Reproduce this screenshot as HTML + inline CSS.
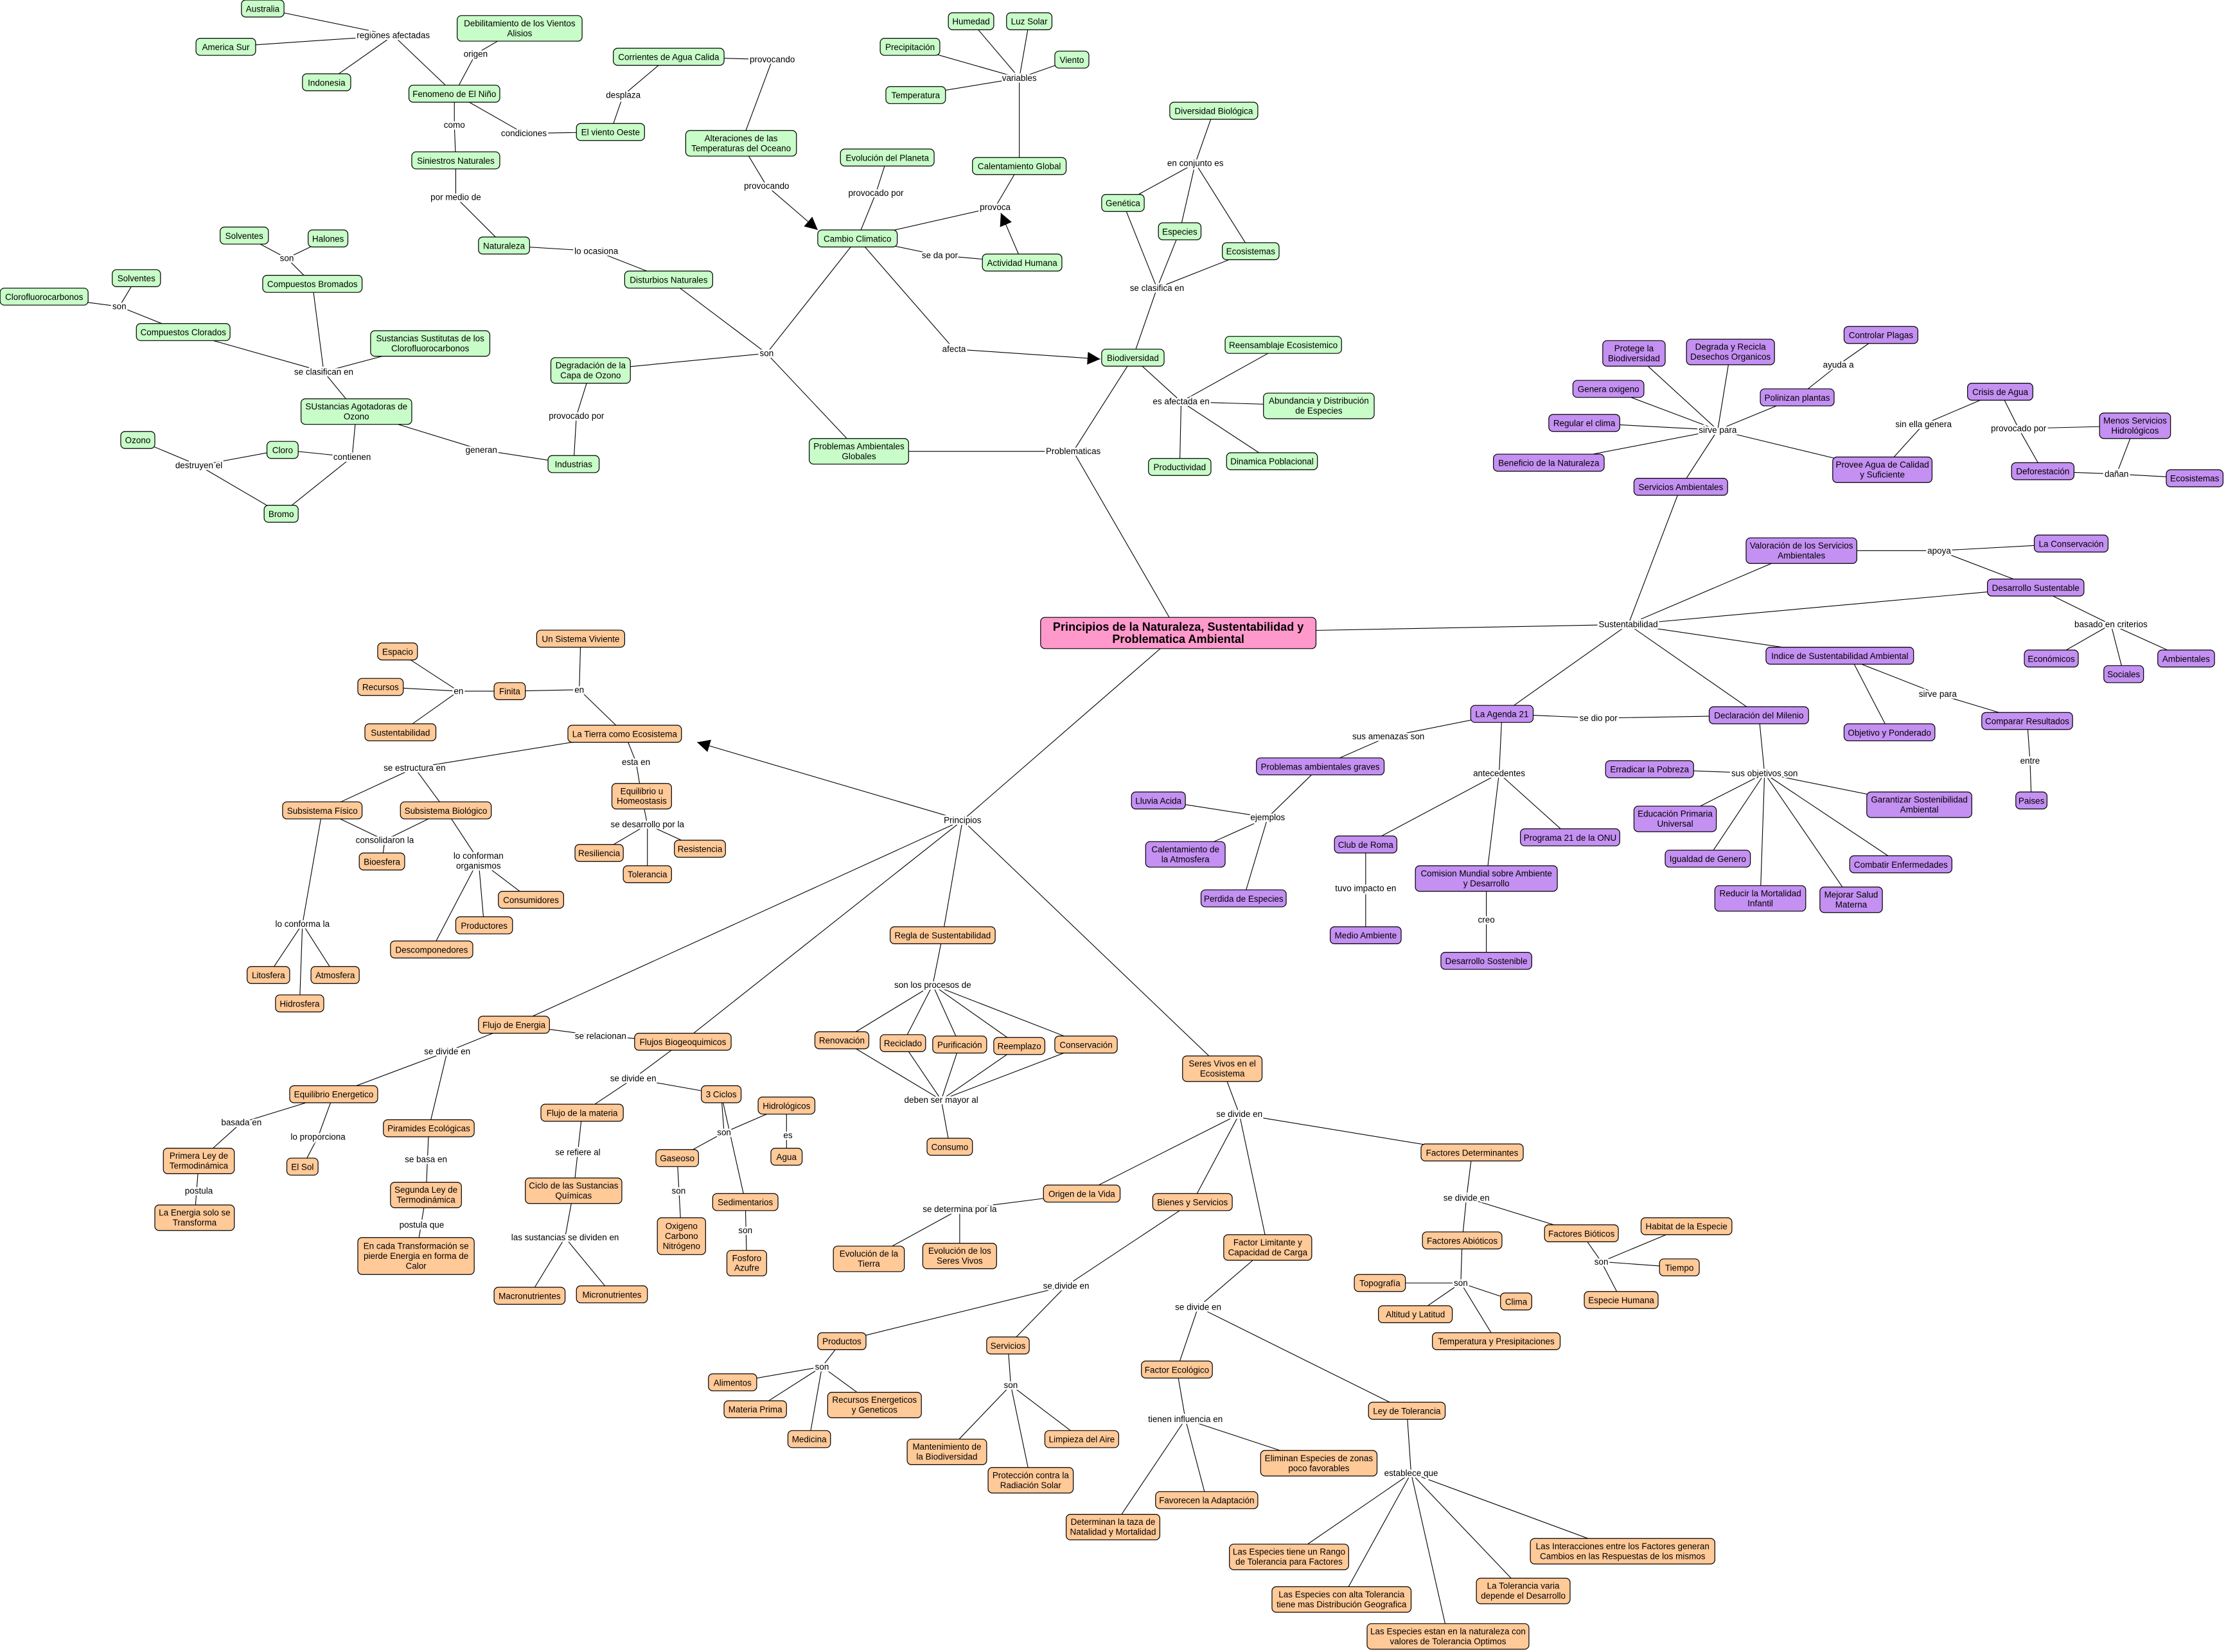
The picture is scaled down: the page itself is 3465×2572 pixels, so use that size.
<!DOCTYPE html>
<html><head><meta charset="utf-8"><style>
html,body{margin:0;padding:0;background:#fff}
svg{display:block}
text{font-family:"Liberation Sans","DejaVu Sans",sans-serif;font-size:6.1px;text-anchor:middle;fill:#000}
.n rect{stroke:#000;stroke-width:0.55}
.g rect{fill:#c8fcc8}.p rect{fill:#c490f2}.o rect{fill:#ffc998}.k rect{fill:#ff99cc}
.l{stroke:#fff;stroke-width:2.5;paint-order:stroke;stroke-linejoin:round}
.e line{stroke:#000;stroke-width:0.5}
</style></head><body>
<svg width="3465" height="2572" viewBox="0 0 1568 1164" xmlns="http://www.w3.org/2000/svg">
<defs><marker id="a" viewBox="0 0 10 10" refX="10" refY="5" markerWidth="9" markerHeight="9" markerUnits="userSpaceOnUse" orient="auto"><path d="M0 0L10 5L0 10z" fill="#000"/></marker></defs>
<g class="e">
<line x1="185" y1="6" x2="277" y2="25"/><line x1="159" y1="33" x2="277" y2="25"/><line x1="230" y1="58" x2="277" y2="25"/><line x1="277" y1="25" x2="320" y2="66"/>
<line x1="366" y1="20" x2="335" y2="38"/><line x1="335" y1="38" x2="320" y2="66"/>
<line x1="320" y1="66" x2="320" y2="88"/><line x1="320" y1="88" x2="321" y2="113"/>
<line x1="320" y1="66" x2="369" y2="94"/><line x1="369" y1="94" x2="430" y2="93"/>
<line x1="430" y1="93" x2="439" y2="67"/><line x1="439" y1="67" x2="471" y2="40"/>
<line x1="471" y1="40" x2="544" y2="42"/><line x1="544" y1="42" x2="522" y2="101"/>
<line x1="522" y1="101" x2="540" y2="131"/><line x1="540" y1="131" x2="576" y2="162" marker-end="url(#a)"/>
<line x1="321" y1="113" x2="321" y2="139"/><line x1="321" y1="139" x2="355" y2="173"/>
<line x1="355" y1="173" x2="420" y2="177"/><line x1="420" y1="177" x2="471" y2="197"/>
<line x1="172" y1="166" x2="202" y2="182"/><line x1="231" y1="168" x2="202" y2="182"/><line x1="202" y1="182" x2="220" y2="200"/>
<line x1="96" y1="196" x2="84" y2="216"/><line x1="31" y1="209" x2="84" y2="216"/><line x1="84" y1="216" x2="129" y2="234"/>
<line x1="220" y1="200" x2="228" y2="262"/><line x1="129" y1="234" x2="228" y2="262"/><line x1="303" y1="242" x2="228" y2="262"/><line x1="228" y1="262" x2="251" y2="290"/>
<line x1="251" y1="290" x2="248" y2="322"/><line x1="199" y1="317" x2="248" y2="322"/><line x1="248" y1="322" x2="198" y2="362"/>
<line x1="97" y1="310" x2="140" y2="328"/><line x1="140" y1="328" x2="199" y2="317"/><line x1="140" y1="328" x2="198" y2="362"/>
<line x1="251" y1="290" x2="339" y2="317"/><line x1="339" y1="317" x2="404" y2="327"/>
<line x1="404" y1="327" x2="406" y2="293"/><line x1="406" y1="293" x2="416" y2="261"/>
<line x1="416" y1="261" x2="540" y2="249"/><line x1="471" y1="197" x2="540" y2="249"/><line x1="604" y1="168" x2="540" y2="249"/><line x1="540" y1="249" x2="605" y2="318"/>
<line x1="625" y1="111" x2="617" y2="136"/><line x1="617" y1="136" x2="604" y2="168"/>
<line x1="604" y1="168" x2="701" y2="146"/><line x1="701" y1="146" x2="718" y2="117"/><line x1="720" y1="185" x2="705" y2="150" marker-end="url(#a)"/>
<line x1="604" y1="168" x2="662" y2="180"/><line x1="662" y1="180" x2="720" y2="185"/>
<line x1="718" y1="117" x2="718" y2="55"/><line x1="641" y1="33" x2="718" y2="55"/><line x1="684" y1="15" x2="718" y2="55"/><line x1="725" y1="15" x2="718" y2="55"/><line x1="755" y1="42" x2="718" y2="55"/><line x1="645" y1="67" x2="718" y2="55"/>
<line x1="604" y1="168" x2="672" y2="246"/><line x1="672" y1="246" x2="775" y2="253" marker-end="url(#a)"/>
<line x1="855" y1="78" x2="842" y2="115"/><line x1="791" y1="143" x2="842" y2="115"/><line x1="831" y1="163" x2="842" y2="115"/><line x1="881" y1="177" x2="842" y2="115"/>
<line x1="791" y1="143" x2="815" y2="203"/><line x1="831" y1="163" x2="815" y2="203"/><line x1="881" y1="177" x2="815" y2="203"/><line x1="815" y1="203" x2="798" y2="252"/>
<line x1="798" y1="252" x2="832" y2="283"/><line x1="904" y1="243" x2="832" y2="283"/><line x1="929" y1="286" x2="832" y2="283"/><line x1="831" y1="329" x2="832" y2="283"/><line x1="896" y1="325" x2="832" y2="283"/>
<line x1="798" y1="252" x2="756" y2="318"/><line x1="605" y1="318" x2="756" y2="318"/><line x1="756" y1="318" x2="830" y2="446"/>
<line x1="830" y1="446" x2="1147" y2="440"/><line x1="1147" y1="440" x2="1184" y2="343"/><line x1="1147" y1="440" x2="1269" y2="388"/><line x1="1147" y1="440" x2="1434" y2="414"/><line x1="1147" y1="440" x2="1296" y2="462"/><line x1="1147" y1="440" x2="1058" y2="503"/><line x1="1147" y1="440" x2="1239" y2="504"/>
<line x1="1184" y1="343" x2="1210" y2="303"/><line x1="1151" y1="249" x2="1210" y2="303"/><line x1="1219" y1="248" x2="1210" y2="303"/><line x1="1133" y1="274" x2="1210" y2="303"/><line x1="1266" y1="280" x2="1210" y2="303"/><line x1="1116" y1="298" x2="1210" y2="303"/><line x1="1091" y1="326" x2="1210" y2="303"/><line x1="1326" y1="331" x2="1210" y2="303"/>
<line x1="1266" y1="280" x2="1295" y2="257"/><line x1="1295" y1="257" x2="1325" y2="236"/>
<line x1="1326" y1="331" x2="1355" y2="299"/><line x1="1355" y1="299" x2="1409" y2="276"/>
<line x1="1409" y1="276" x2="1422" y2="302"/><line x1="1422" y1="302" x2="1439" y2="332"/><line x1="1504" y1="300" x2="1422" y2="302"/>
<line x1="1439" y1="332" x2="1491" y2="334"/><line x1="1491" y1="334" x2="1546" y2="337"/><line x1="1491" y1="334" x2="1504" y2="300"/>
<line x1="1269" y1="388" x2="1366" y2="388"/><line x1="1366" y1="388" x2="1459" y2="383"/><line x1="1366" y1="388" x2="1434" y2="414"/>
<line x1="1434" y1="414" x2="1487" y2="440"/><line x1="1487" y1="440" x2="1445" y2="464"/><line x1="1487" y1="440" x2="1540" y2="464"/><line x1="1487" y1="440" x2="1496" y2="475"/>
<line x1="1296" y1="462" x2="1302" y2="460"/><line x1="1302" y1="460" x2="1331" y2="516"/><line x1="1296" y1="462" x2="1365" y2="489"/><line x1="1365" y1="489" x2="1428" y2="508"/><line x1="1428" y1="508" x2="1430" y2="536"/><line x1="1430" y1="536" x2="1431" y2="564"/>
<line x1="1058" y1="503" x2="1126" y2="506"/><line x1="1126" y1="506" x2="1239" y2="504"/>
<line x1="1058" y1="503" x2="978" y2="519"/><line x1="978" y1="519" x2="930" y2="540"/>
<line x1="930" y1="540" x2="893" y2="576"/><line x1="816" y1="564" x2="893" y2="576"/><line x1="835" y1="602" x2="893" y2="576"/><line x1="876" y1="633" x2="893" y2="576"/>
<line x1="1058" y1="503" x2="1056" y2="545"/><line x1="1056" y1="545" x2="962" y2="595"/><line x1="1056" y1="545" x2="1106" y2="590"/><line x1="1056" y1="545" x2="1047" y2="619"/>
<line x1="962" y1="595" x2="962" y2="659"/><line x1="1047" y1="619" x2="1047" y2="677"/>
<line x1="1239" y1="504" x2="1243" y2="545"/><line x1="1162" y1="542" x2="1243" y2="545"/><line x1="1180" y1="577" x2="1243" y2="545"/><line x1="1203" y1="605" x2="1243" y2="545"/><line x1="1240" y1="633" x2="1243" y2="545"/><line x1="1304" y1="634" x2="1243" y2="545"/><line x1="1339" y1="609" x2="1243" y2="545"/><line x1="1352" y1="567" x2="1243" y2="545"/>
<line x1="830" y1="446" x2="678" y2="578"/><line x1="678" y1="578" x2="491" y2="523" marker-end="url(#a)"/><line x1="678" y1="578" x2="362" y2="722"/><line x1="678" y1="578" x2="481" y2="734"/><line x1="678" y1="578" x2="664" y2="659"/><line x1="678" y1="578" x2="861" y2="753"/>
<line x1="280" y1="459" x2="323" y2="487"/><line x1="268" y1="484" x2="323" y2="487"/><line x1="282" y1="516" x2="323" y2="487"/><line x1="323" y1="487" x2="359" y2="487"/>
<line x1="359" y1="487" x2="408" y2="486"/><line x1="409" y1="450" x2="408" y2="486"/><line x1="408" y1="486" x2="440" y2="517"/>
<line x1="440" y1="517" x2="292" y2="541"/><line x1="292" y1="541" x2="227" y2="571"/><line x1="292" y1="541" x2="314" y2="571"/>
<line x1="440" y1="517" x2="448" y2="537"/><line x1="448" y1="537" x2="452" y2="561"/>
<line x1="452" y1="561" x2="456" y2="581"/><line x1="422" y1="601" x2="456" y2="581"/><line x1="493" y1="598" x2="456" y2="581"/><line x1="456" y1="616" x2="456" y2="581"/>
<line x1="227" y1="571" x2="271" y2="592"/><line x1="314" y1="571" x2="271" y2="592"/><line x1="271" y1="592" x2="269" y2="607"/>
<line x1="314" y1="571" x2="337" y2="606"/><line x1="374" y1="634" x2="337" y2="606"/><line x1="341" y1="652" x2="337" y2="606"/><line x1="304" y1="669" x2="337" y2="606"/>
<line x1="227" y1="571" x2="213" y2="651"/><line x1="189" y1="687" x2="213" y2="651"/><line x1="236" y1="687" x2="213" y2="651"/><line x1="211" y1="707" x2="213" y2="651"/>
<line x1="664" y1="659" x2="657" y2="694"/><line x1="593" y1="733" x2="657" y2="694"/><line x1="636" y1="735" x2="657" y2="694"/><line x1="676" y1="736" x2="657" y2="694"/><line x1="718" y1="737" x2="657" y2="694"/><line x1="765" y1="736" x2="657" y2="694"/>
<line x1="593" y1="733" x2="663" y2="775"/><line x1="636" y1="735" x2="663" y2="775"/><line x1="676" y1="736" x2="663" y2="775"/><line x1="718" y1="737" x2="663" y2="775"/><line x1="765" y1="736" x2="663" y2="775"/><line x1="663" y1="775" x2="669" y2="808"/>
<line x1="362" y1="722" x2="423" y2="730"/><line x1="423" y1="730" x2="481" y2="734"/>
<line x1="362" y1="722" x2="315" y2="741"/><line x1="315" y1="741" x2="235" y2="771"/><line x1="315" y1="741" x2="302" y2="795"/>
<line x1="235" y1="771" x2="170" y2="791"/><line x1="170" y1="791" x2="140" y2="818"/><line x1="235" y1="771" x2="224" y2="801"/><line x1="224" y1="801" x2="213" y2="822"/>
<line x1="140" y1="818" x2="137" y2="858"/><line x1="302" y1="795" x2="300" y2="842"/><line x1="300" y1="842" x2="293" y2="885"/>
<line x1="481" y1="734" x2="446" y2="760"/><line x1="446" y1="760" x2="508" y2="771"/><line x1="446" y1="760" x2="410" y2="784"/>
<line x1="508" y1="771" x2="510" y2="798"/><line x1="510" y1="798" x2="477" y2="816"/><line x1="510" y1="798" x2="554" y2="779"/><line x1="508" y1="771" x2="525" y2="847"/><line x1="554" y1="779" x2="554" y2="815"/>
<line x1="477" y1="816" x2="480" y2="871"/><line x1="525" y1="847" x2="526" y2="890"/>
<line x1="410" y1="784" x2="404" y2="839"/><line x1="404" y1="839" x2="398" y2="872"/><line x1="398" y1="872" x2="373" y2="913"/><line x1="398" y1="872" x2="431" y2="912"/>
<line x1="861" y1="753" x2="873" y2="785"/><line x1="873" y1="785" x2="762" y2="841"/><line x1="873" y1="785" x2="840" y2="847"/><line x1="873" y1="785" x2="893" y2="879"/><line x1="873" y1="785" x2="1037" y2="812"/>
<line x1="762" y1="841" x2="676" y2="852"/><line x1="676" y1="852" x2="612" y2="887"/><line x1="676" y1="852" x2="676" y2="885"/>
<line x1="840" y1="847" x2="751" y2="906"/><line x1="751" y1="906" x2="593" y2="945"/><line x1="751" y1="906" x2="710" y2="948"/>
<line x1="593" y1="945" x2="579" y2="963"/><line x1="516" y1="974" x2="579" y2="963"/><line x1="532" y1="993" x2="579" y2="963"/><line x1="616" y1="990" x2="579" y2="963"/><line x1="570" y1="1014" x2="579" y2="963"/>
<line x1="710" y1="948" x2="712" y2="976"/><line x1="667" y1="1023" x2="712" y2="976"/><line x1="726" y1="1043" x2="712" y2="976"/><line x1="762" y1="1014" x2="712" y2="976"/>
<line x1="893" y1="879" x2="844" y2="921"/><line x1="844" y1="921" x2="829" y2="965"/><line x1="844" y1="921" x2="991" y2="994"/>
<line x1="829" y1="965" x2="835" y2="1000"/><line x1="929" y1="1031" x2="835" y2="1000"/><line x1="850" y1="1057" x2="835" y2="1000"/><line x1="784" y1="1076" x2="835" y2="1000"/>
<line x1="991" y1="994" x2="994" y2="1038"/><line x1="908" y1="1097" x2="994" y2="1038"/><line x1="1143" y1="1093" x2="994" y2="1038"/><line x1="1073" y1="1121" x2="994" y2="1038"/><line x1="945" y1="1127" x2="994" y2="1038"/><line x1="1020" y1="1153" x2="994" y2="1038"/>
<line x1="1037" y1="812" x2="1033" y2="844"/><line x1="1033" y1="844" x2="1030" y2="874"/><line x1="1033" y1="844" x2="1114" y2="869"/>
<line x1="1030" y1="874" x2="1029" y2="904"/><line x1="972" y1="904" x2="1029" y2="904"/><line x1="1068" y1="917" x2="1029" y2="904"/><line x1="997" y1="926" x2="1029" y2="904"/><line x1="1054" y1="945" x2="1029" y2="904"/>
<line x1="1114" y1="869" x2="1128" y2="889"/><line x1="1188" y1="864" x2="1128" y2="889"/><line x1="1183" y1="893" x2="1128" y2="889"/><line x1="1142" y1="916" x2="1128" y2="889"/>
</g>
<g>
<text class="l" x="277" y="27">regiones afectadas</text><text class="l" x="335" y="40">origen</text><text class="l" x="320" y="90">como</text><text class="l" x="369" y="96">condiciones</text><text class="l" x="439" y="69">desplaza</text><text class="l" x="544" y="44">provocando</text><text class="l" x="540" y="133">provocando</text><text class="l" x="321" y="141">por medio de</text><text class="l" x="202" y="184">son</text><text class="l" x="84" y="218">son</text><text class="l" x="420" y="179">lo ocasiona</text><text class="l" x="228" y="264">se clasifican en</text><text class="l" x="140" y="330">destruyen el</text><text class="l" x="248" y="324">contienen</text><text class="l" x="339" y="319">generan</text><text class="l" x="406" y="295">provocado por</text><text class="l" x="540" y="251">son</text><text class="l" x="617" y="138">provocado por</text><text class="l" x="718" y="57">variables</text><text class="l" x="701" y="148">provoca</text><text class="l" x="662" y="182">se da por</text><text class="l" x="672" y="248">afecta</text><text class="l" x="842" y="117">en conjunto es</text><text class="l" x="815" y="205">se clasifica en</text><text class="l" x="832" y="285">es afectada en</text><text class="l" x="756" y="320">Problematicas</text>
<text class="l" x="1295" y="259">ayuda a</text><text class="l" x="1210" y="305">sirve para</text><text class="l" x="1355" y="301">sin ella genera</text><text class="l" x="1422" y="304">provocado por</text><text class="l" x="1491" y="336">dañan</text><text class="l" x="1366" y="390">apoya</text><text class="l" x="1487" y="442">basado en criterios</text><text class="l" x="1147" y="442">Sustentabilidad</text><text class="l" x="1302" y="462">es</text><text class="l" x="1365" y="491">sirve para</text><text class="l" x="1430" y="538">entre</text><text class="l" x="1126" y="508">se dio por</text><text class="l" x="978" y="521">sus amenazas son</text><text class="l" x="1056" y="547">antecedentes</text><text class="l" x="1243" y="547">sus objetivos son</text><text class="l" x="893" y="578">ejemplos</text><text class="l" x="962" y="628">tuvo impacto en</text><text class="l" x="1047" y="650">creo</text>
<text class="l" x="323" y="489">en</text><text class="l" x="408" y="488">en</text><text class="l" x="292" y="543">se estructura en</text><text class="l" x="448" y="539">esta en</text><text class="l" x="456" y="583">se desarrollo por la</text><text class="l" x="678" y="580">Principios</text><text class="l" x="271" y="594">consolidaron la</text><text class="l" x="337" y="605">lo conforman</text><text class="l" x="337" y="612">organismos</text><text class="l" x="213" y="653">lo conforma la</text><text class="l" x="657" y="696">son los procesos de</text><text class="l" x="423" y="732">se relacionan</text><text class="l" x="315" y="743">se divide en</text><text class="l" x="446" y="762">se divide en</text><text class="l" x="170" y="793">basada en</text><text class="l" x="224" y="803">lo proporciona</text><text class="l" x="663" y="777">deben ser mayor al</text><text class="l" x="510" y="800">son</text><text class="l" x="555" y="802">es</text><text class="l" x="407" y="814">se refiere al</text><text class="l" x="300" y="819">se basa en</text><text class="l" x="478" y="841">son</text><text class="l" x="525" y="869">son</text><text class="l" x="140" y="841">postula</text><text class="l" x="297" y="865">postula que</text><text class="l" x="398" y="874">las sustancias se dividen en</text><text class="l" x="873" y="787">se divide en</text><text class="l" x="1033" y="846">se divide en</text><text class="l" x="676" y="854">se determina por la</text><text class="l" x="1128" y="891">son</text><text class="l" x="1029" y="906">son</text><text class="l" x="751" y="908">se divide en</text><text class="l" x="844" y="923">se divide en</text><text class="l" x="579" y="965">son</text><text class="l" x="712" y="978">son</text><text class="l" x="835" y="1002">tienen influencia en</text><text class="l" x="994" y="1040">establece que</text>
</g>
<g class="n k"><g transform="translate(830 446)"><rect x="-97" y="-11" width="194" height="22" rx="3"/><text y="-1.5" style="font-weight:bold;font-size:8.2px">Principios de la Naturaleza, Sustentabilidad y</text><text y="7" style="font-weight:bold;font-size:8.2px">Problematica Ambiental</text></g></g>
<g class="n g">
<g transform="translate(185 6)"><rect x="-15" y="-6" width="30" height="12" rx="3"/><text y="2.3">Australia</text></g>
<g transform="translate(159 33)"><rect x="-21" y="-6" width="42" height="12" rx="3"/><text y="2.3">America Sur</text></g>
<g transform="translate(230 58)"><rect x="-17" y="-6" width="34" height="12" rx="3"/><text y="2.3">Indonesia</text></g>
<g transform="translate(366 20)"><rect x="-44" y="-9" width="88" height="18" rx="3"/><text y="-1.5">Debilitamiento de los Vientos</text><text y="5.5">Alisios</text></g>
<g transform="translate(320 66)"><rect x="-32" y="-6" width="64" height="12" rx="3"/><text y="2.3">Fenomeno de El Niño</text></g>
<g transform="translate(471 40)"><rect x="-39" y="-6" width="78" height="12" rx="3"/><text y="2.3">Corrientes de Agua Calida</text></g>
<g transform="translate(522 101)"><rect x="-39" y="-9" width="78" height="18" rx="3"/><text y="-1.5">Alteraciones de las</text><text y="5.5">Temperaturas del Oceano</text></g>
<g transform="translate(430 93)"><rect x="-24" y="-6" width="48" height="12" rx="3"/><text y="2.3">El viento Oeste</text></g>
<g transform="translate(321 113)"><rect x="-31" y="-6" width="62" height="12" rx="3"/><text y="2.3">Siniestros Naturales</text></g>
<g transform="translate(355 173)"><rect x="-18" y="-6" width="36" height="12" rx="3"/><text y="2.3">Naturaleza</text></g>
<g transform="translate(172 166)"><rect x="-17" y="-6" width="34" height="12" rx="3"/><text y="2.3">Solventes</text></g>
<g transform="translate(231 168)"><rect x="-14" y="-6" width="28" height="12" rx="3"/><text y="2.3">Halones</text></g>
<g transform="translate(220 200)"><rect x="-35" y="-6" width="70" height="12" rx="3"/><text y="2.3">Compuestos Bromados</text></g>
<g transform="translate(96 196)"><rect x="-17" y="-6" width="34" height="12" rx="3"/><text y="2.3">Solventes</text></g>
<g transform="translate(31 209)"><rect x="-31" y="-6" width="62" height="12" rx="3"/><text y="2.3">Clorofluorocarbonos</text></g>
<g transform="translate(129 234)"><rect x="-33" y="-6" width="66" height="12" rx="3"/><text y="2.3">Compuestos Clorados</text></g>
<g transform="translate(303 242)"><rect x="-42" y="-9" width="84" height="18" rx="3"/><text y="-1.5">Sustancias Sustitutas de los</text><text y="5.5">Clorofluorocarbonos</text></g>
<g transform="translate(251 290)"><rect x="-39" y="-9" width="78" height="18" rx="3"/><text y="-1.5">SUstancias Agotadoras de</text><text y="5.5">Ozono</text></g>
<g transform="translate(97 310)"><rect x="-12" y="-6" width="24" height="12" rx="3"/><text y="2.3">Ozono</text></g>
<g transform="translate(199 317)"><rect x="-11" y="-6" width="22" height="12" rx="3"/><text y="2.3">Cloro</text></g>
<g transform="translate(198 362)"><rect x="-12" y="-6" width="24" height="12" rx="3"/><text y="2.3">Bromo</text></g>
<g transform="translate(416 261)"><rect x="-28" y="-9" width="56" height="18" rx="3"/><text y="-1.5">Degradación de la</text><text y="5.5">Capa de Ozono</text></g>
<g transform="translate(404 327)"><rect x="-18" y="-6" width="36" height="12" rx="3"/><text y="2.3">Industrias</text></g>
<g transform="translate(471 197)"><rect x="-31" y="-6" width="62" height="12" rx="3"/><text y="2.3">Disturbios Naturales</text></g>
<g transform="translate(605 318)"><rect x="-35" y="-9" width="70" height="18" rx="3"/><text y="-1.5">Problemas Ambientales</text><text y="5.5">Globales</text></g>
<g transform="translate(604 168)"><rect x="-28" y="-6" width="56" height="12" rx="3"/><text y="2.3">Cambio Climatico</text></g>
<g transform="translate(625 111)"><rect x="-33" y="-6" width="66" height="12" rx="3"/><text y="2.3">Evolución del Planeta</text></g>
<g transform="translate(718 117)"><rect x="-33" y="-6" width="66" height="12" rx="3"/><text y="2.3">Calentamiento Global</text></g>
<g transform="translate(641 33)"><rect x="-21" y="-6" width="42" height="12" rx="3"/><text y="2.3">Precipitación</text></g>
<g transform="translate(684 15)"><rect x="-16" y="-6" width="32" height="12" rx="3"/><text y="2.3">Humedad</text></g>
<g transform="translate(725 15)"><rect x="-16" y="-6" width="32" height="12" rx="3"/><text y="2.3">Luz Solar</text></g>
<g transform="translate(755 42)"><rect x="-12" y="-6" width="24" height="12" rx="3"/><text y="2.3">Viento</text></g>
<g transform="translate(645 67)"><rect x="-21" y="-6" width="42" height="12" rx="3"/><text y="2.3">Temperatura</text></g>
<g transform="translate(720 185)"><rect x="-28" y="-6" width="56" height="12" rx="3"/><text y="2.3">Actividad Humana</text></g>
<g transform="translate(855 78)"><rect x="-31" y="-6" width="62" height="12" rx="3"/><text y="2.3">Diversidad Biológica</text></g>
<g transform="translate(791 143)"><rect x="-15" y="-6" width="30" height="12" rx="3"/><text y="2.3">Genética</text></g>
<g transform="translate(831 163)"><rect x="-15" y="-6" width="30" height="12" rx="3"/><text y="2.3">Especies</text></g>
<g transform="translate(881 177)"><rect x="-20" y="-6" width="40" height="12" rx="3"/><text y="2.3">Ecosistemas</text></g>
<g transform="translate(798 252)"><rect x="-22" y="-6" width="44" height="12" rx="3"/><text y="2.3">Biodiversidad</text></g>
<g transform="translate(904 243)"><rect x="-41" y="-6" width="82" height="12" rx="3"/><text y="2.3">Reensamblaje Ecosistemico</text></g>
<g transform="translate(929 286)"><rect x="-39" y="-9" width="78" height="18" rx="3"/><text y="-1.5">Abundancia y Distribución</text><text y="5.5">de Especies</text></g>
<g transform="translate(831 329)"><rect x="-22" y="-6" width="44" height="12" rx="3"/><text y="2.3">Productividad</text></g>
<g transform="translate(896 325)"><rect x="-32" y="-6" width="64" height="12" rx="3"/><text y="2.3">Dinamica Poblacional</text></g>
</g>
<g class="n p">
<g transform="translate(1151 249)"><rect x="-22" y="-9" width="44" height="18" rx="3"/><text y="-1.5">Protege la</text><text y="5.5">Biodiversidad</text></g>
<g transform="translate(1219 248)"><rect x="-31" y="-9" width="62" height="18" rx="3"/><text y="-1.5">Degrada y Recicla</text><text y="5.5">Desechos Organicos</text></g>
<g transform="translate(1325 236)"><rect x="-26" y="-6" width="52" height="12" rx="3"/><text y="2.3">Controlar Plagas</text></g>
<g transform="translate(1133 274)"><rect x="-25" y="-6" width="50" height="12" rx="3"/><text y="2.3">Genera oxigeno</text></g>
<g transform="translate(1266 280)"><rect x="-26" y="-6" width="52" height="12" rx="3"/><text y="2.3">Polinizan plantas</text></g>
<g transform="translate(1409 276)"><rect x="-23" y="-6" width="46" height="12" rx="3"/><text y="2.3">Crisis de Agua</text></g>
<g transform="translate(1116 298)"><rect x="-25" y="-6" width="50" height="12" rx="3"/><text y="2.3">Regular el clima</text></g>
<g transform="translate(1504 300)"><rect x="-25" y="-9" width="50" height="18" rx="3"/><text y="-1.5">Menos Servicios</text><text y="5.5">Hidrológicos</text></g>
<g transform="translate(1091 326)"><rect x="-39" y="-6" width="78" height="12" rx="3"/><text y="2.3">Beneficio de la Naturaleza</text></g>
<g transform="translate(1326 331)"><rect x="-35" y="-9" width="70" height="18" rx="3"/><text y="-1.5">Provee Agua de Calidad</text><text y="5.5">y Suficiente</text></g>
<g transform="translate(1439 332)"><rect x="-22" y="-6" width="44" height="12" rx="3"/><text y="2.3">Deforestación</text></g>
<g transform="translate(1546 337)"><rect x="-20" y="-6" width="40" height="12" rx="3"/><text y="2.3">Ecosistemas</text></g>
<g transform="translate(1184 343)"><rect x="-33" y="-6" width="66" height="12" rx="3"/><text y="2.3">Servicios Ambientales</text></g>
<g transform="translate(1269 388)"><rect x="-39" y="-9" width="78" height="18" rx="3"/><text y="-1.5">Valoración de los Servicios</text><text y="5.5">Ambientales</text></g>
<g transform="translate(1459 383)"><rect x="-26" y="-6" width="52" height="12" rx="3"/><text y="2.3">La Conservación</text></g>
<g transform="translate(1434 414)"><rect x="-34" y="-6" width="68" height="12" rx="3"/><text y="2.3">Desarrollo Sustentable</text></g>
<g transform="translate(1296 462)"><rect x="-52" y="-6" width="104" height="12" rx="3"/><text y="2.3">Indice de Sustentabilidad Ambiental</text></g>
<g transform="translate(1445 464)"><rect x="-19" y="-6" width="38" height="12" rx="3"/><text y="2.3">Económicos</text></g>
<g transform="translate(1540 464)"><rect x="-20" y="-6" width="40" height="12" rx="3"/><text y="2.3">Ambientales</text></g>
<g transform="translate(1496 475)"><rect x="-14" y="-6" width="28" height="12" rx="3"/><text y="2.3">Sociales</text></g>
<g transform="translate(1058 503)"><rect x="-22" y="-6" width="44" height="12" rx="3"/><text y="2.3">La Agenda 21</text></g>
<g transform="translate(1239 504)"><rect x="-35" y="-6" width="70" height="12" rx="3"/><text y="2.3">Declaración del Milenio</text></g>
<g transform="translate(1331 516)"><rect x="-32" y="-6" width="64" height="12" rx="3"/><text y="2.3">Objetivo y Ponderado</text></g>
<g transform="translate(1428 508)"><rect x="-32" y="-6" width="64" height="12" rx="3"/><text y="2.3">Comparar Resultados</text></g>
<g transform="translate(930 540)"><rect x="-45" y="-6" width="90" height="12" rx="3"/><text y="2.3">Problemas ambientales graves</text></g>
<g transform="translate(1162 542)"><rect x="-31" y="-6" width="62" height="12" rx="3"/><text y="2.3">Erradicar la Pobreza</text></g>
<g transform="translate(816 564)"><rect x="-19" y="-6" width="38" height="12" rx="3"/><text y="2.3">Lluvia Acida</text></g>
<g transform="translate(1180 577)"><rect x="-29" y="-9" width="58" height="18" rx="3"/><text y="-1.5">Educación Primaria</text><text y="5.5">Universal</text></g>
<g transform="translate(1352 567)"><rect x="-37" y="-9" width="74" height="18" rx="3"/><text y="-1.5">Garantizar Sostenibilidad</text><text y="5.5">Ambiental</text></g>
<g transform="translate(1106 590)"><rect x="-35" y="-6" width="70" height="12" rx="3"/><text y="2.3">Programa 21 de la ONU</text></g>
<g transform="translate(962 595)"><rect x="-22" y="-6" width="44" height="12" rx="3"/><text y="2.3">Club de Roma</text></g>
<g transform="translate(835 602)"><rect x="-28" y="-9" width="56" height="18" rx="3"/><text y="-1.5">Calentamiento de</text><text y="5.5">la Atmosfera</text></g>
<g transform="translate(1203 605)"><rect x="-30" y="-6" width="60" height="12" rx="3"/><text y="2.3">Igualdad de Genero</text></g>
<g transform="translate(1339 609)"><rect x="-36" y="-6" width="72" height="12" rx="3"/><text y="2.3">Combatir Enfermedades</text></g>
<g transform="translate(1047 619)"><rect x="-50" y="-9" width="100" height="18" rx="3"/><text y="-1.5">Comision Mundial sobre Ambiente</text><text y="5.5">y Desarrollo</text></g>
<g transform="translate(1431 564)"><rect x="-11" y="-6" width="22" height="12" rx="3"/><text y="2.3">Paises</text></g>
<g transform="translate(1240 633)"><rect x="-32" y="-9" width="64" height="18" rx="3"/><text y="-1.5">Reducir la Mortalidad</text><text y="5.5">Infantil</text></g>
<g transform="translate(1304 634)"><rect x="-22" y="-9" width="44" height="18" rx="3"/><text y="-1.5">Mejorar Salud</text><text y="5.5">Materna</text></g>
<g transform="translate(876 633)"><rect x="-30" y="-6" width="60" height="12" rx="3"/><text y="2.3">Perdida de Especies</text></g>
<g transform="translate(962 659)"><rect x="-25" y="-6" width="50" height="12" rx="3"/><text y="2.3">Medio Ambiente</text></g>
<g transform="translate(1047 677)"><rect x="-32" y="-6" width="64" height="12" rx="3"/><text y="2.3">Desarrollo Sostenible</text></g>
</g>
<g class="n o">
<g transform="translate(280 459)"><rect x="-14" y="-6" width="28" height="12" rx="3"/><text y="2.3">Espacio</text></g>
<g transform="translate(409 450)"><rect x="-31" y="-6" width="62" height="12" rx="3"/><text y="2.3">Un Sistema Viviente</text></g>
<g transform="translate(268 484)"><rect x="-16" y="-6" width="32" height="12" rx="3"/><text y="2.3">Recursos</text></g>
<g transform="translate(359 487)"><rect x="-11" y="-6" width="22" height="12" rx="3"/><text y="2.3">Finita</text></g>
<g transform="translate(282 516)"><rect x="-25" y="-6" width="50" height="12" rx="3"/><text y="2.3">Sustentabilidad</text></g>
<g transform="translate(440 517)"><rect x="-40" y="-6" width="80" height="12" rx="3"/><text y="2.3">La Tierra como Ecosistema</text></g>
<g transform="translate(452 561)"><rect x="-21" y="-9" width="42" height="18" rx="3"/><text y="-1.5">Equilibrio u</text><text y="5.5">Homeostasis</text></g>
<g transform="translate(227 571)"><rect x="-28" y="-6" width="56" height="12" rx="3"/><text y="2.3">Subsistema Físico</text></g>
<g transform="translate(314 571)"><rect x="-32" y="-6" width="64" height="12" rx="3"/><text y="2.3">Subsistema Biológico</text></g>
<g transform="translate(422 601)"><rect x="-17" y="-6" width="34" height="12" rx="3"/><text y="2.3">Resiliencia</text></g>
<g transform="translate(493 598)"><rect x="-18" y="-6" width="36" height="12" rx="3"/><text y="2.3">Resistencia</text></g>
<g transform="translate(269 607)"><rect x="-16" y="-6" width="32" height="12" rx="3"/><text y="2.3">Bioesfera</text></g>
<g transform="translate(456 616)"><rect x="-17" y="-6" width="34" height="12" rx="3"/><text y="2.3">Tolerancia</text></g>
<g transform="translate(374 634)"><rect x="-23" y="-6" width="46" height="12" rx="3"/><text y="2.3">Consumidores</text></g>
<g transform="translate(341 652)"><rect x="-20" y="-6" width="40" height="12" rx="3"/><text y="2.3">Productores</text></g>
<g transform="translate(304 669)"><rect x="-29" y="-6" width="58" height="12" rx="3"/><text y="2.3">Descomponedores</text></g>
<g transform="translate(189 687)"><rect x="-15" y="-6" width="30" height="12" rx="3"/><text y="2.3">Litosfera</text></g>
<g transform="translate(236 687)"><rect x="-17" y="-6" width="34" height="12" rx="3"/><text y="2.3">Atmosfera</text></g>
<g transform="translate(211 707)"><rect x="-17" y="-6" width="34" height="12" rx="3"/><text y="2.3">Hidrosfera</text></g>
<g transform="translate(664 659)"><rect x="-37" y="-6" width="74" height="12" rx="3"/><text y="2.3">Regla de Sustentabilidad</text></g>
<g transform="translate(362 722)"><rect x="-25" y="-6" width="50" height="12" rx="3"/><text y="2.3">Flujo de Energia</text></g>
<g transform="translate(481 734)"><rect x="-34" y="-6" width="68" height="12" rx="3"/><text y="2.3">Flujos Biogeoquimicos</text></g>
<g transform="translate(593 733)"><rect x="-19" y="-6" width="38" height="12" rx="3"/><text y="2.3">Renovación</text></g>
<g transform="translate(636 735)"><rect x="-16" y="-6" width="32" height="12" rx="3"/><text y="2.3">Reciclado</text></g>
<g transform="translate(676 736)"><rect x="-19" y="-6" width="38" height="12" rx="3"/><text y="2.3">Purificación</text></g>
<g transform="translate(718 737)"><rect x="-18" y="-6" width="36" height="12" rx="3"/><text y="2.3">Reemplazo</text></g>
<g transform="translate(765 736)"><rect x="-22" y="-6" width="44" height="12" rx="3"/><text y="2.3">Conservación</text></g>
<g transform="translate(861 753)"><rect x="-28" y="-9" width="56" height="18" rx="3"/><text y="-1.5">Seres Vivos en el</text><text y="5.5">Ecosistema</text></g>
<g transform="translate(235 771)"><rect x="-31" y="-6" width="62" height="12" rx="3"/><text y="2.3">Equilibrio Energetico</text></g>
<g transform="translate(508 771)"><rect x="-14" y="-6" width="28" height="12" rx="3"/><text y="2.3">3 Ciclos</text></g>
<g transform="translate(554 779)"><rect x="-20" y="-6" width="40" height="12" rx="3"/><text y="2.3">Hidrológicos</text></g>
<g transform="translate(410 784)"><rect x="-29" y="-6" width="58" height="12" rx="3"/><text y="2.3">Flujo de la materia</text></g>
<g transform="translate(302 795)"><rect x="-32" y="-6" width="64" height="12" rx="3"/><text y="2.3">Piramides Ecológicas</text></g>
<g transform="translate(554 815)"><rect x="-11" y="-6" width="22" height="12" rx="3"/><text y="2.3">Agua</text></g>
<g transform="translate(477 816)"><rect x="-15" y="-6" width="30" height="12" rx="3"/><text y="2.3">Gaseoso</text></g>
<g transform="translate(140 818)"><rect x="-25" y="-9" width="50" height="18" rx="3"/><text y="-1.5">Primera Ley de</text><text y="5.5">Termodinámica</text></g>
<g transform="translate(213 822)"><rect x="-11" y="-6" width="22" height="12" rx="3"/><text y="2.3">El Sol</text></g>
<g transform="translate(669 808)"><rect x="-16" y="-6" width="32" height="12" rx="3"/><text y="2.3">Consumo</text></g>
<g transform="translate(1037 812)"><rect x="-36" y="-6" width="72" height="12" rx="3"/><text y="2.3">Factores Determinantes</text></g>
<g transform="translate(404 839)"><rect x="-34" y="-9" width="68" height="18" rx="3"/><text y="-1.5">Ciclo de las Sustancias</text><text y="5.5">Químicas</text></g>
<g transform="translate(300 842)"><rect x="-25" y="-9" width="50" height="18" rx="3"/><text y="-1.5">Segunda Ley de</text><text y="5.5">Termodinámica</text></g>
<g transform="translate(762 841)"><rect x="-27" y="-6" width="54" height="12" rx="3"/><text y="2.3">Origen de la Vida</text></g>
<g transform="translate(840 847)"><rect x="-28" y="-6" width="56" height="12" rx="3"/><text y="2.3">Bienes y Servicios</text></g>
<g transform="translate(525 847)"><rect x="-23" y="-6" width="46" height="12" rx="3"/><text y="2.3">Sedimentarios</text></g>
<g transform="translate(137 858)"><rect x="-28" y="-9" width="56" height="18" rx="3"/><text y="-1.5">La Energia solo se</text><text y="5.5">Transforma</text></g>
<g transform="translate(1188 864)"><rect x="-32" y="-6" width="64" height="12" rx="3"/><text y="2.3">Habitat de la Especie</text></g>
<g transform="translate(1030 874)"><rect x="-28" y="-6" width="56" height="12" rx="3"/><text y="2.3">Factores Abióticos</text></g>
<g transform="translate(1114 869)"><rect x="-26" y="-6" width="52" height="12" rx="3"/><text y="2.3">Factores Bióticos</text></g>
<g transform="translate(480 871)"><rect x="-17" y="-13" width="34" height="26" rx="3"/><text y="-5">Oxigeno</text><text y="2">Carbono</text><text y="9">Nitrógeno</text></g>
<g transform="translate(893 879)"><rect x="-31" y="-9" width="62" height="18" rx="3"/><text y="-1.5">Factor Limitante y</text><text y="5.5">Capacidad de Carga</text></g>
<g transform="translate(293 885)"><rect x="-41" y="-13" width="82" height="26" rx="3"/><text y="-5">En cada Transformación se</text><text y="2">pierde Energia en forma de</text><text y="9">Calor</text></g>
<g transform="translate(612 887)"><rect x="-25" y="-9" width="50" height="18" rx="3"/><text y="-1.5">Evolución de la</text><text y="5.5">Tierra</text></g>
<g transform="translate(676 885)"><rect x="-26" y="-9" width="52" height="18" rx="3"/><text y="-1.5">Evolución de los</text><text y="5.5">Seres Vivos</text></g>
<g transform="translate(526 890)"><rect x="-14" y="-9" width="28" height="18" rx="3"/><text y="-1.5">Fosforo</text><text y="5.5">Azufre</text></g>
<g transform="translate(1183 893)"><rect x="-14" y="-6" width="28" height="12" rx="3"/><text y="2.3">Tiempo</text></g>
<g transform="translate(972 904)"><rect x="-18" y="-6" width="36" height="12" rx="3"/><text y="2.3">Topografía</text></g>
<g transform="translate(1068 917)"><rect x="-11" y="-6" width="22" height="12" rx="3"/><text y="2.3">Clima</text></g>
<g transform="translate(1142 916)"><rect x="-26" y="-6" width="52" height="12" rx="3"/><text y="2.3">Especie Humana</text></g>
<g transform="translate(373 913)"><rect x="-25" y="-6" width="50" height="12" rx="3"/><text y="2.3">Macronutrientes</text></g>
<g transform="translate(431 912)"><rect x="-25" y="-6" width="50" height="12" rx="3"/><text y="2.3">Micronutrientes</text></g>
<g transform="translate(997 926)"><rect x="-26" y="-6" width="52" height="12" rx="3"/><text y="2.3">Altitud y Latitud</text></g>
<g transform="translate(1054 945)"><rect x="-45" y="-6" width="90" height="12" rx="3"/><text y="2.3">Temperatura y Presipitaciones</text></g>
<g transform="translate(593 945)"><rect x="-17" y="-6" width="34" height="12" rx="3"/><text y="2.3">Productos</text></g>
<g transform="translate(710 948)"><rect x="-15" y="-6" width="30" height="12" rx="3"/><text y="2.3">Servicios</text></g>
<g transform="translate(829 965)"><rect x="-25" y="-6" width="50" height="12" rx="3"/><text y="2.3">Factor Ecológico</text></g>
<g transform="translate(516 974)"><rect x="-17" y="-6" width="34" height="12" rx="3"/><text y="2.3">Alimentos</text></g>
<g transform="translate(532 993)"><rect x="-22" y="-6" width="44" height="12" rx="3"/><text y="2.3">Materia Prima</text></g>
<g transform="translate(616 990)"><rect x="-33" y="-9" width="66" height="18" rx="3"/><text y="-1.5">Recursos Energeticos</text><text y="5.5">y Geneticos</text></g>
<g transform="translate(991 994)"><rect x="-27" y="-6" width="54" height="12" rx="3"/><text y="2.3">Ley de Tolerancia</text></g>
<g transform="translate(570 1014)"><rect x="-15" y="-6" width="30" height="12" rx="3"/><text y="2.3">Medicina</text></g>
<g transform="translate(762 1014)"><rect x="-26" y="-6" width="52" height="12" rx="3"/><text y="2.3">Limpieza del Aire</text></g>
<g transform="translate(667 1023)"><rect x="-28" y="-9" width="56" height="18" rx="3"/><text y="-1.5">Mantenimiento de</text><text y="5.5">la Biodiversidad</text></g>
<g transform="translate(929 1031)"><rect x="-41" y="-9" width="82" height="18" rx="3"/><text y="-1.5">Eliminan Especies de zonas</text><text y="5.5">poco favorables</text></g>
<g transform="translate(726 1043)"><rect x="-30" y="-9" width="60" height="18" rx="3"/><text y="-1.5">Protección contra la</text><text y="5.5">Radiación Solar</text></g>
<g transform="translate(850 1057)"><rect x="-36" y="-6" width="72" height="12" rx="3"/><text y="2.3">Favorecen la Adaptación</text></g>
<g transform="translate(784 1076)"><rect x="-33" y="-9" width="66" height="18" rx="3"/><text y="-1.5">Determinan la taza de</text><text y="5.5">Natalidad y Mortalidad</text></g>
<g transform="translate(908 1097)"><rect x="-42" y="-9" width="84" height="18" rx="3"/><text y="-1.5">Las Especies tiene un Rango</text><text y="5.5">de Tolerancia para Factores</text></g>
<g transform="translate(1143 1093)"><rect x="-65" y="-9" width="130" height="18" rx="3"/><text y="-1.5">Las Interacciones entre los Factores generan</text><text y="5.5">Cambios en las Respuestas de los mismos</text></g>
<g transform="translate(1073 1121)"><rect x="-33" y="-9" width="66" height="18" rx="3"/><text y="-1.5">La Tolerancia varia</text><text y="5.5">depende el Desarrollo</text></g>
<g transform="translate(945 1127)"><rect x="-49" y="-9" width="98" height="18" rx="3"/><text y="-1.5">Las Especies con alta Tolerancia</text><text y="5.5">tiene mas Distribución Geografica</text></g>
<g transform="translate(1020 1153)"><rect x="-57" y="-9" width="114" height="18" rx="3"/><text y="-1.5">Las Especies estan en la naturaleza con</text><text y="5.5">valores de Tolerancia Optimos</text></g>
</g>
</svg>
</body></html>
